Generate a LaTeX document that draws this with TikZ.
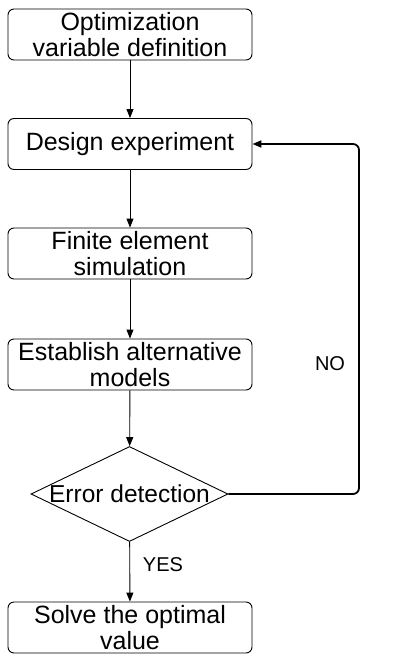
\documentclass[tikz,border=0pt]{standalone}
\usepackage{fontspec}
\setmainfont{Liberation Sans}
\usetikzlibrary{shapes.geometric,arrows.meta}
\begin{document}
\begin{tikzpicture}[x=1pt,y=-1pt,
  stepbox/.style={draw, line width=0.9pt, rounded corners=6pt, minimum width=244pt, minimum height=51pt, inner sep=0pt, align=center, font=\fontsize{25}{26}\selectfont},
  decision/.style={draw, line width=0.9pt, shape=diamond, minimum width=197pt, minimum height=95pt, aspect=2.07, inner sep=0pt},
  flow/.style={line width=0.9pt, -{Triangle[length=9pt,width=7pt]}},
  lbl/.style={font=\fontsize{20}{22}\selectfont}]
\useasboundingbox (0,0) rectangle (400,661);
\node[stepbox] (b1) at (130,34.5) {Optimization\\variable definition};
\node[stepbox] (b2) at (130,144) {Design experiment};
\node[stepbox] (b3) at (130,253.5) {Finite element\\simulation};
\node[stepbox] (b4) at (130,364.5) {Establish alternative\\models};
\node[decision, label={[font=\fontsize{24.5}{26}\selectfont]center:Error detection}] (d) at (129.5,494) {};
\node[stepbox] (b5) at (130,627.5) {Solve the optimal\\value};
\coordinate (c1) at (359,494);
\coordinate (c2) at (359,144);
\draw[flow] (b1) -- (b2);
\draw[flow] (b2) -- (b3);
\draw[flow] (b3) -- (b4);
\draw[flow] (b4) -- (d);
\draw[flow] (d) -- (b5);
\draw[flow, line width=1.8pt, rounded corners=6pt] (d.east) -- (c1) -- (c2) -- (b2.east);
\node[lbl] (no) at (330,364) {NO};
\node[lbl] (yes) at (163,565) {YES};
\end{tikzpicture}
\end{document}
